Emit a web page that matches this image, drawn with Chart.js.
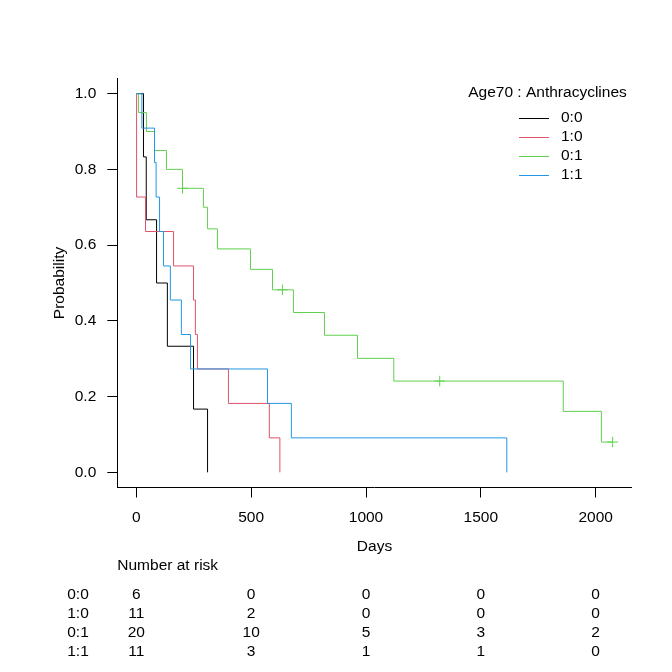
<!DOCTYPE html>
<html>
<head>
<meta charset="utf-8">
<title>Kaplan-Meier: Age70 : Anthracyclines</title>
<script src="https://cdn.jsdelivr.net/npm/chart.js"></script>
<style>
  html, body { margin: 0; padding: 0; background: #ffffff; }
  #wrap { width: 672px; height: 672px; }
</style>
</head>
<body>
<div id="wrap"><canvas id="kmChart" width="672" height="672"></canvas></div>
<script>
// 分组名称
const groupLabels = ['0:0', '1:0', '0:1', '1:1'];

// 各组生存曲线（天数 / 生存概率）
const days00 = [0, 31, 43, 88, 135, 249, 310];
const surv00 = [1, 0.833, 0.667, 0.5, 0.333, 0.167, 0];

const days10 = [0, 1, 40, 162, 249, 257, 266, 401, 579, 625];
const surv10 = [1, 0.727, 0.636, 0.545, 0.455, 0.364, 0.273, 0.182, 0.091, 0];

const days01 = [0, 9, 44, 79, 131, 201, 292, 310, 353, 497, 593, 684, 819, 963, 1121, 1859, 2025, 2074];
const surv01 = [1, 0.95, 0.9, 0.85, 0.8, 0.75, 0.70, 0.643, 0.59, 0.536, 0.482, 0.422, 0.362, 0.301, 0.241, 0.161, 0.080, 0.080];

const days11 = [0, 24, 79, 86, 101, 118, 148, 196, 236, 571, 675, 1613];
const surv11 = [1, 0.909, 0.818, 0.727, 0.636, 0.545, 0.455, 0.364, 0.273, 0.182, 0.091, 0];

// 删失标记（只有 0:1 组）
const censorDays01 = [201, 636, 1321, 2074];
const censorSurv01 = [0.75, 0.482, 0.241, 0.080];

// 坐标轴刻度
const xTicks = [0, 500, 1000, 1500, 2000];
const yTicks = [0, 0.2, 0.4, 0.6, 0.8, 1.0];

// 风险人数表
const riskDays = [0, 500, 1000, 1500, 2000];
const atRisk00 = [6, 0, 0, 0, 0];
const atRisk10 = [11, 2, 0, 0, 0];
const atRisk01 = [20, 10, 5, 3, 2];
const atRisk11 = [11, 3, 1, 1, 0];

// 样式
const groupColors = ['#000000', '#DF536B', '#61D04F', '#2297E6'];
const FONT = "'Liberation Sans', Arial, sans-serif";
const FONT_SIZE = 15.5;

function toPoints(xs, ys) {
    return xs.map((x, i) => ({ x: x, y: ys[i] }));
}

const curveSets = [
    [days00, surv00], [days10, surv10], [days01, surv01], [days11, surv11]
];

const datasets = curveSets.map((c, i) => ({
    label: groupLabels[i],
    data: toPoints(c[0], c[1]),
    stepped: true,
    borderColor: groupColors[i],
    backgroundColor: groupColors[i],
    borderWidth: 1,
    pointRadius: 0,
    fill: false,
    order: 4 - i
}));

datasets.push({
    type: 'scatter',
    label: '0:1 censored',
    data: toPoints(censorDays01, censorSurv01),
    showLine: false,
    pointStyle: 'cross',
    pointRadius: 5.3,
    pointBorderWidth: 1,
    borderColor: groupColors[2],
    backgroundColor: groupColors[2],
    order: 0
});

/**
 * 图例与风险人数表
 */
const kmExtras = {
    id: 'kmExtras',
    afterDraw(chart) {
        const ctx = chart.ctx;
        const xScale = chart.scales.x;
        ctx.save();
        ctx.fillStyle = '#000000';
        ctx.font = FONT_SIZE + 'px ' + FONT;
        ctx.textBaseline = 'middle';

        // 图例
        ctx.textAlign = 'center';
        ctx.fillText('Age70 : Anthracyclines', 547.5, 93);
        groupLabels.forEach((lab, i) => {
            const y = 117.7 + i * 19.1;
            ctx.strokeStyle = groupColors[i];
            ctx.lineWidth = 1;
            ctx.beginPath();
            ctx.moveTo(519, Math.round(y) + 0.5);
            ctx.lineTo(549, Math.round(y) + 0.5);
            ctx.stroke();
            ctx.textAlign = 'left';
            ctx.fillText(lab, 561, y);
        });

        // 风险人数表
        ctx.textAlign = 'left';
        ctx.fillText('Number at risk', chart.chartArea.left, 565.7);
        const rows = [atRisk00, atRisk10, atRisk01, atRisk11];
        rows.forEach((row, r) => {
            const y = 594.3 + r * 19;
            ctx.textAlign = 'center';
            ctx.fillText(groupLabels[r], 78, y);
            row.forEach((n, k) => {
                ctx.fillText(String(n), xScale.getPixelForValue(riskDays[k]), y);
            });
        });
        ctx.restore();
    }
};

const ctx = document.getElementById('kmChart').getContext('2d');
const kmChart = new Chart(ctx, {
    type: 'line',
    data: { datasets: datasets },
    options: {
        responsive: false,
        animation: false,
        layout: { padding: { left: 0, right: 40.3, top: 78.5, bottom: 0 } },
        plugins: {
            legend: { display: false },
            tooltip: { enabled: false }
        },
        scales: {
            x: {
                type: 'linear',
                min: -83,
                max: 2157,
                afterBuildTicks: (axis) => { axis.ticks = xTicks.map(v => ({ value: v })); },
                afterFit: (axis) => { axis.height = 184.5; },
                grid: { drawOnChartArea: false, tickLength: 10, color: '#000000', lineWidth: 1 },
                border: { display: true, color: '#000000', width: 1 },
                ticks: {
                    color: '#000000',
                    padding: 10.5,
                    maxRotation: 0,
                    font: { family: FONT, size: FONT_SIZE },
                    callback: (v) => String(v)
                },
                title: {
                    display: true,
                    text: 'Days',
                    color: '#000000',
                    font: { family: FONT, size: FONT_SIZE },
                    padding: { top: 0, bottom: 116 }
                }
            },
            y: {
                type: 'linear',
                min: -0.04,
                max: 1.04,
                afterBuildTicks: (axis) => { axis.ticks = yTicks.map(v => ({ value: v })); },
                afterFit: (axis) => { axis.width = 117.3; },
                grid: { drawOnChartArea: false, tickLength: 10, color: '#000000', lineWidth: 1 },
                border: { display: true, color: '#000000', width: 1 },
                ticks: {
                    color: '#000000',
                    padding: 11,
                    font: { family: FONT, size: FONT_SIZE },
                    callback: (v) => Number(v).toFixed(1)
                },
                title: {
                    display: true,
                    text: 'Probability',
                    color: '#000000',
                    font: { family: FONT, size: FONT_SIZE },
                    padding: { top: 50.7, bottom: 0 }
                }
            }
        }
    },
    plugins: [kmExtras]
});
</script>
</body>
</html>
